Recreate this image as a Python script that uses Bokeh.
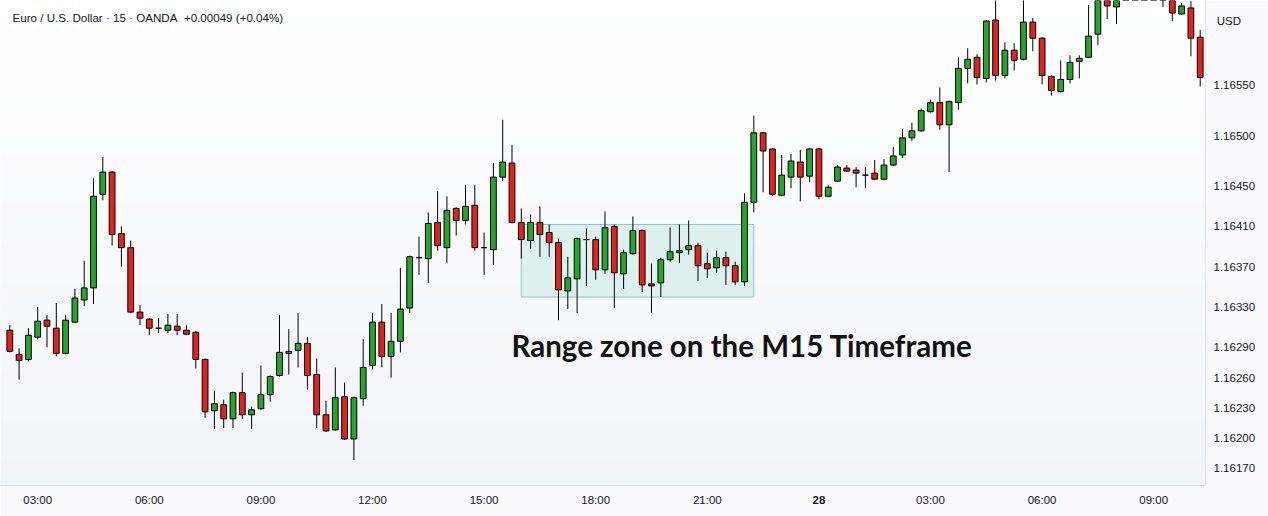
import numpy as np
from bokeh.plotting import figure
from bokeh.models import ColumnDataSource, Range1d, FixedTicker, PrintfTickFormatter, Label, LinearAxis
from bokeh.embed import file_html
from bokeh.resources import INLINE

# ---------------- data ----------------
symbol_title = "Euro / U.S. Dollar \u00b7 15 \u00b7 OANDA\u00a0\u00a0+0.00049 (+0.04%)"
note_text = "Range zone on the M15 Timeframe"
currency = "USD"

first_day = 27
first_bar_minutes = 2 * 60 + 15   # 02:15
bar_step_minutes = 15

opens = [
    1.16307, 1.16283, 1.16278, 1.16300, 1.16317, 1.16309, 1.16284, 1.16315, 1.16337, 1.16349,
    1.16442, 1.16464, 1.16403, 1.16389, 1.16325, 1.16318, 1.16309, 1.16307, 1.16311, 1.16307,
    1.16305, 1.16278, 1.16227, 1.16233, 1.16219, 1.16245, 1.16223, 1.16229, 1.16243, 1.16262,
    1.16284, 1.16287, 1.16294, 1.16263, 1.16223, 1.16208, 1.16241, 1.16199, 1.16239, 1.16272,
    1.16315, 1.16281, 1.16296, 1.16329, 1.16379, 1.16378, 1.16414, 1.16389, 1.16428, 1.16416,
    1.16431, 1.16389, 1.16387, 1.16459, 1.16473, 1.16414, 1.16396, 1.16414, 1.16404, 1.16394,
    1.16346, 1.16358, 1.16397, 1.16397, 1.16367, 1.16410, 1.16363, 1.16383, 1.16406, 1.16353,
    1.16354, 1.16377, 1.16384, 1.16387, 1.16391, 1.16373, 1.16369, 1.16379, 1.16371, 1.16355,
    1.16434, 1.16503, 1.16487, 1.16441, 1.16459, 1.16474, 1.16460, 1.16487, 1.16440, 1.16455,
    1.16468, 1.16466, 1.16461, 1.16463, 1.16457, 1.16471, 1.16481, 1.16498, 1.16505, 1.16524,
    1.16533, 1.16511, 1.16533, 1.16567, 1.16578, 1.16557, 1.16615, 1.16560, 1.16585, 1.16576,
    1.16613, 1.16597, 1.16559, 1.16544, 1.16556, 1.16574, 1.16578, 1.16601, 1.16640, 1.16628,
    1.16645, 1.16670, 1.16665, 1.16682, 1.16660, 1.16650, 1.16621, 1.16627, 1.16598,
]
highs = [
    1.16312, 1.16289, 1.16309, 1.16330, 1.16322, 1.16334, 1.16322, 1.16348, 1.16376, 1.16458,
    1.16479, 1.16465, 1.16410, 1.16396, 1.16332, 1.16319, 1.16319, 1.16323, 1.16323, 1.16312,
    1.16306, 1.16279, 1.16247, 1.16238, 1.16246, 1.16265, 1.16231, 1.16272, 1.16262, 1.16322,
    1.16308, 1.16324, 1.16300, 1.16279, 1.16237, 1.16270, 1.16255, 1.16241, 1.16298, 1.16324,
    1.16333, 1.16324, 1.16369, 1.16381, 1.16400, 1.16424, 1.16445, 1.16440, 1.16429, 1.16451,
    1.16451, 1.16404, 1.16473, 1.16516, 1.16491, 1.16428, 1.16422, 1.16430, 1.16412, 1.16398,
    1.16380, 1.16399, 1.16408, 1.16400, 1.16425, 1.16412, 1.16387, 1.16420, 1.16407, 1.16373,
    1.16379, 1.16409, 1.16412, 1.16416, 1.16394, 1.16384, 1.16386, 1.16385, 1.16375, 1.16443,
    1.16520, 1.16504, 1.16488, 1.16481, 1.16482, 1.16486, 1.16488, 1.16488, 1.16451, 1.16471,
    1.16471, 1.16469, 1.16469, 1.16476, 1.16477, 1.16489, 1.16507, 1.16513, 1.16527, 1.16536,
    1.16548, 1.16535, 1.16578, 1.16587, 1.16581, 1.16615, 1.16636, 1.16593, 1.16592, 1.16638,
    1.16617, 1.16598, 1.16560, 1.16575, 1.16580, 1.16580, 1.16630, 1.16650, 1.16648, 1.16650,
    1.16680, 1.16690, 1.16692, 1.16688, 1.16672, 1.16660, 1.16632, 1.16634, 1.16605,
]
lows = [
    1.16285, 1.16258, 1.16276, 1.16298, 1.16290, 1.16281, 1.16283, 1.16314, 1.16331, 1.16333,
    1.16436, 1.16391, 1.16370, 1.16324, 1.16312, 1.16302, 1.16304, 1.16304, 1.16302, 1.16302,
    1.16269, 1.16220, 1.16209, 1.16210, 1.16210, 1.16219, 1.16209, 1.16228, 1.16236, 1.16261,
    1.16263, 1.16270, 1.16248, 1.16210, 1.16206, 1.16207, 1.16198, 1.16178, 1.16232, 1.16268,
    1.16270, 1.16260, 1.16285, 1.16324, 1.16362, 1.16354, 1.16386, 1.16374, 1.16401, 1.16412,
    1.16386, 1.16362, 1.16372, 1.16455, 1.16413, 1.16378, 1.16388, 1.16380, 1.16380, 1.16317,
    1.16328, 1.16324, 1.16351, 1.16357, 1.16363, 1.16329, 1.16348, 1.16382, 1.16345, 1.16324,
    1.16340, 1.16375, 1.16374, 1.16382, 1.16356, 1.16359, 1.16364, 1.16352, 1.16352, 1.16351,
    1.16424, 1.16444, 1.16440, 1.16440, 1.16448, 1.16435, 1.16454, 1.16437, 1.16439, 1.16454,
    1.16464, 1.16449, 1.16448, 1.16456, 1.16456, 1.16470, 1.16478, 1.16495, 1.16504, 1.16523,
    1.16506, 1.16464, 1.16526, 1.16552, 1.16551, 1.16553, 1.16555, 1.16557, 1.16565, 1.16575,
    1.16584, 1.16551, 1.16540, 1.16543, 1.16552, 1.16557, 1.16577, 1.16590, 1.16616, 1.16611,
    1.16640, 1.16660, 1.16658, 1.16652, 1.16628, 1.16614, 1.16620, 1.16579, 1.16549,
]
closes = [
    1.16286, 1.16277, 1.16302, 1.16316, 1.16311, 1.16284, 1.16317, 1.16339, 1.16349, 1.16440,
    1.16464, 1.16402, 1.16389, 1.16325, 1.16319, 1.16309, 1.16309, 1.16312, 1.16307, 1.16303,
    1.16278, 1.16226, 1.16234, 1.16219, 1.16245, 1.16223, 1.16228, 1.16243, 1.16261, 1.16285,
    1.16286, 1.16294, 1.16262, 1.16223, 1.16207, 1.16240, 1.16199, 1.16240, 1.16270, 1.16315,
    1.16281, 1.16296, 1.16328, 1.16380, 1.16379, 1.16413, 1.16391, 1.16426, 1.16416, 1.16430,
    1.16389, 1.16389, 1.16459, 1.16474, 1.16414, 1.16397, 1.16414, 1.16402, 1.16394, 1.16347,
    1.16359, 1.16398, 1.16397, 1.16367, 1.16409, 1.16364, 1.16384, 1.16406, 1.16352, 1.16351,
    1.16377, 1.16385, 1.16386, 1.16391, 1.16371, 1.16368, 1.16379, 1.16371, 1.16355, 1.16434,
    1.16503, 1.16485, 1.16442, 1.16461, 1.16475, 1.16459, 1.16487, 1.16440, 1.16449, 1.16469,
    1.16465, 1.16463, 1.16461, 1.16457, 1.16471, 1.16480, 1.16498, 1.16505, 1.16525, 1.16533,
    1.16511, 1.16534, 1.16567, 1.16576, 1.16558, 1.16614, 1.16560, 1.16585, 1.16575, 1.16613,
    1.16597, 1.16560, 1.16545, 1.16556, 1.16573, 1.16577, 1.16599, 1.16645, 1.16629, 1.16642,
    1.16670, 1.16665, 1.16682, 1.16660, 1.16650, 1.16622, 1.16629, 1.16597, 1.16558,
]

price_ticks = [1.16170, 1.16200, 1.16230, 1.16260, 1.16290, 1.16330, 1.16370,
               1.16410, 1.16450, 1.16500, 1.16550]
currency_tick = 1.16614   # where the currency tag sits on the price scale

# range zone: first / last bar index and price band
zone_first_bar = 55
zone_last_bar = 80
zone_low = 1.16340
zone_high = 1.16412

# ---------------- styling ----------------
GREEN = "#25a52b"
RED = "#e2231d"
TXT = "#131722"
AXIS_FONT = "Liberation Sans"
AXIS_SIZE = "11.5px"

n = len(opens)
idx = np.arange(n)
o = np.array(opens); h = np.array(highs); l = np.array(lows); c = np.array(closes)
up = c >= o
src = ColumnDataSource(dict(
    x=idx, high=h, low=l,
    top=np.maximum(o, c), bottom=np.minimum(o, c),
    color=np.where(up, GREEN, RED),
))

# time axis ticks (every 3 hours, day change shown as day number)
minutes = first_bar_minutes + bar_step_minutes * idx
tick_pos = [int(i) for i in idx if minutes[i] % 180 == 0]
tick_text = {}
day_text = {}
for i in tick_pos:
    hr = (minutes[i] // 60) % 24
    if hr == 0:
        tick_text[i] = ""
        day_text[i] = str(first_day + minutes[i] // 1440)
    else:
        tick_text[i] = f"{hr:02d}:00"

y0, y1 = 1.161528, 1.166344
p = figure(
    frame_width=1205, frame_height=485,
    x_range=Range1d(-1.0, 128.57), y_range=Range1d(y0, y1),
    y_axis_location="right",
    output_backend="svg", toolbar_location=None,
    min_border_left=0, min_border_top=0, min_border_right=63, min_border_bottom=31,
    background_fill_color="#ffffff", border_fill_color="#fafafc",
)
p.grid.visible = False
p.outline_line_color = None

# background vertical gradient
nb = 60
edges = np.linspace(y0, y1, nb + 1)
frac = (y1 - (edges[:-1] + edges[1:]) / 2) / (y1 - y0)
top_rgb = np.array([255, 255, 255]); bot_rgb = np.array([243, 244, 248])
cols = ["#%02x%02x%02x" % tuple(np.round(top_rgb + (bot_rgb - top_rgb) * f).astype(int)) for f in frac]
p.quad(left=-5, right=140, bottom=edges[:-1], top=edges[1:] + (y1 - y0) / nb * 0.2,
       fill_color=cols, line_color=None)

# range zone
p.quad(left=[zone_first_bar], right=[zone_last_bar], bottom=[zone_low], top=[zone_high],
       fill_color="#d3ede9", fill_alpha=0.75, line_color="#86cbc2", line_width=1)

# candles
p.segment(x0="x", y0="low", x1="x", y1="high", source=src, line_color="#000000", line_width=1)
p.vbar(x="x", top="top", bottom="bottom", width=0.62, source=src,
       fill_color="color", line_color="#000000", line_width=1)


def style_axis(ax, standoff):
    ax.major_label_text_font = AXIS_FONT
    ax.major_label_text_font_size = AXIS_SIZE
    ax.major_label_text_color = TXT
    ax.major_tick_line_color = None
    ax.minor_tick_line_color = None
    ax.major_tick_out = 0
    ax.major_tick_in = 0
    ax.minor_tick_out = 0
    ax.minor_tick_in = 0
    ax.major_label_standoff = standoff


# price axis (right)
ya = p.yaxis[0]
ya.ticker = FixedTicker(ticks=price_ticks + [currency_tick])
ya.formatter = PrintfTickFormatter(format="%.5f")
ya.major_label_overrides = {currency_tick: "\u00a0" + currency}
style_axis(ya, 8)
ya.axis_line_color = "#e0e3eb"

# time axis (bottom)
xa = p.xaxis[0]
xa.ticker = FixedTicker(ticks=tick_pos)
xa.major_label_overrides = tick_text
style_axis(xa, 8)
xa.axis_line_color = "#e0e3eb"

# day-change label (bold), pulled up into the same row as the time labels
xd = LinearAxis(ticker=FixedTicker(ticks=list(day_text.keys())),
                major_label_overrides=day_text, axis_line_color=None)
style_axis(xd, -13)
xd.major_label_text_font_style = "bold"
p.add_layout(xd, "below")

# title
p.add_layout(Label(x=12, y=468, x_units="screen", y_units="screen", text=symbol_title,
                   text_font=AXIS_FONT, text_font_size="11.6px", text_color=TXT,
                   text_baseline="middle"))

# annotation text
p.add_layout(Label(x=511, y=140, x_units="screen", y_units="screen", text=note_text,
                   text_font="Lato", text_font_size="29.5px", text_font_style="bold",
                   text_color="#111111", text_baseline="alphabetic"))

open("out.html", "w").write(file_html(p, INLINE))
